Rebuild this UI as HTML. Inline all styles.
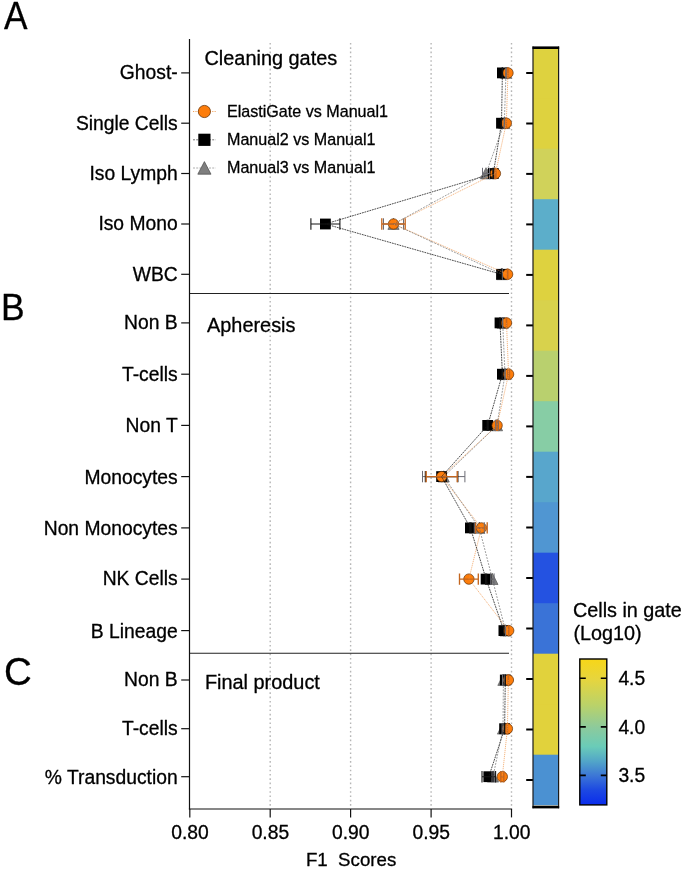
<!DOCTYPE html>
<html lang="en"><head><meta charset="utf-8"><title>F1 Scores</title>
<style>html,body{margin:0;padding:0;background:#fff}svg{display:block}text{stroke:#000;stroke-width:0.3px;stroke-linejoin:round}</style></head>
<body>
<svg width="685" height="869" viewBox="0 0 685 869" font-family="Liberation Sans, Arial, Helvetica, sans-serif" fill="#000" stroke="#000" stroke-width="0">
<defs><linearGradient id="cb" x1="0" y1="0" x2="0" y2="1"><stop offset="0" stop-color="#f7d618"/><stop offset="0.14" stop-color="#e6d53e"/><stop offset="0.32" stop-color="#b9d26a"/><stop offset="0.47" stop-color="#8cca9c"/><stop offset="0.60" stop-color="#6accb8"/><stop offset="0.70" stop-color="#52a6c8"/><stop offset="0.80" stop-color="#3c76d6"/><stop offset="0.90" stop-color="#1c48e2"/><stop offset="1" stop-color="#0a2cec"/></linearGradient></defs>
<rect width="685" height="869" fill="#fff"/>
<line x1="270.2" y1="43" x2="270.2" y2="808" stroke="#b6b6b6" stroke-width="1.4" stroke-dasharray="1.6 2.7"/>
<line x1="350.6" y1="43" x2="350.6" y2="808" stroke="#b6b6b6" stroke-width="1.4" stroke-dasharray="1.6 2.7"/>
<line x1="431.1" y1="43" x2="431.1" y2="808" stroke="#b6b6b6" stroke-width="1.4" stroke-dasharray="1.6 2.7"/>
<line x1="511.5" y1="43" x2="511.5" y2="808" stroke="#b6b6b6" stroke-width="1.4" stroke-dasharray="1.6 2.7"/>
<line x1="189.8" y1="293.5" x2="509" y2="293.5" stroke="#222" stroke-width="1.1"/>
<line x1="189.8" y1="653.3" x2="509" y2="653.3" stroke="#222" stroke-width="1.1"/>
<line x1="189.5" y1="39" x2="189.5" y2="809.6" stroke="#111" stroke-width="1.2"/>
<line x1="188.9" y1="809.0" x2="512.1" y2="809.0" stroke="#111" stroke-width="1.2"/>
<line x1="189.8" y1="809.0" x2="189.8" y2="817.4" stroke="#111" stroke-width="1.2"/>
<text x="190.0" y="838.8" font-size="19.3" text-anchor="middle">0.80</text>
<line x1="270.2" y1="809.0" x2="270.2" y2="817.4" stroke="#111" stroke-width="1.2"/>
<text x="270.4" y="838.8" font-size="19.3" text-anchor="middle">0.85</text>
<line x1="350.6" y1="809.0" x2="350.6" y2="817.4" stroke="#111" stroke-width="1.2"/>
<text x="350.8" y="838.8" font-size="19.3" text-anchor="middle">0.90</text>
<line x1="431.1" y1="809.0" x2="431.1" y2="817.4" stroke="#111" stroke-width="1.2"/>
<text x="431.3" y="838.8" font-size="19.3" text-anchor="middle">0.95</text>
<line x1="511.5" y1="809.0" x2="511.5" y2="817.4" stroke="#111" stroke-width="1.2"/>
<text x="511.7" y="838.8" font-size="19.3" text-anchor="middle">1.00</text>
<text x="305.9" y="866.2" font-size="18.7" xml:space="preserve">F1  Scores</text>
<line x1="181.2" y1="72.9" x2="189.5" y2="72.9" stroke="#111" stroke-width="1.2"/>
<text x="177.7" y="79.2" font-size="19.3" text-anchor="end">Ghost-</text>
<line x1="181.2" y1="123.2" x2="189.5" y2="123.2" stroke="#111" stroke-width="1.2"/>
<text x="177.7" y="130.1" font-size="19.3" text-anchor="end">Single Cells</text>
<line x1="181.2" y1="173.5" x2="189.5" y2="173.5" stroke="#111" stroke-width="1.2"/>
<text x="177.7" y="180.4" font-size="19.3" text-anchor="end">Iso Lymph</text>
<line x1="181.2" y1="224.0" x2="189.5" y2="224.0" stroke="#111" stroke-width="1.2"/>
<text x="177.7" y="230.3" font-size="19.3" text-anchor="end">Iso Mono</text>
<line x1="181.2" y1="274.3" x2="189.5" y2="274.3" stroke="#111" stroke-width="1.2"/>
<text x="177.7" y="280.6" font-size="19.3" text-anchor="end">WBC</text>
<line x1="181.2" y1="322.9" x2="189.5" y2="322.9" stroke="#111" stroke-width="1.2"/>
<text x="177.7" y="329.2" font-size="19.3" text-anchor="end">Non B</text>
<line x1="181.2" y1="374.2" x2="189.5" y2="374.2" stroke="#111" stroke-width="1.2"/>
<text x="177.7" y="380.5" font-size="19.3" text-anchor="end">T-cells</text>
<line x1="181.2" y1="425.4" x2="189.5" y2="425.4" stroke="#111" stroke-width="1.2"/>
<text x="177.7" y="431.7" font-size="19.3" text-anchor="end">Non T</text>
<line x1="181.2" y1="476.6" x2="189.5" y2="476.6" stroke="#111" stroke-width="1.2"/>
<text x="177.7" y="483.5" font-size="19.3" text-anchor="end">Monocytes</text>
<line x1="181.2" y1="527.9" x2="189.5" y2="527.9" stroke="#111" stroke-width="1.2"/>
<text x="177.7" y="534.8" font-size="19.3" text-anchor="end">Non Monocytes</text>
<line x1="181.2" y1="579.1" x2="189.5" y2="579.1" stroke="#111" stroke-width="1.2"/>
<text x="177.7" y="585.4" font-size="19.3" text-anchor="end">NK Cells</text>
<line x1="181.2" y1="630.6" x2="189.5" y2="630.6" stroke="#111" stroke-width="1.2"/>
<text x="177.7" y="637.5" font-size="19.3" text-anchor="end">B Lineage</text>
<line x1="181.2" y1="680.0" x2="189.5" y2="680.0" stroke="#111" stroke-width="1.2"/>
<text x="177.7" y="686.3" font-size="19.3" text-anchor="end">Non B</text>
<line x1="181.2" y1="728.7" x2="189.5" y2="728.7" stroke="#111" stroke-width="1.2"/>
<text x="177.7" y="735.0" font-size="19.3" text-anchor="end">T-cells</text>
<line x1="181.2" y1="776.7" x2="189.5" y2="776.7" stroke="#111" stroke-width="1.2"/>
<text x="177.7" y="783.6" font-size="19.3" text-anchor="end">% Transduction</text>
<text transform="translate(4.0 29.0) scale(0.93 1)" font-size="37.9">A</text>
<text transform="translate(1.1 320.2) scale(0.945 1)" font-size="37.5">B</text>
<text x="4.0" y="685.2" font-size="38.5">C</text>
<text x="204.5" y="64.6" font-size="19.9">Cleaning gates</text>
<text x="207" y="331.5" font-size="19.9">Apheresis</text>
<text x="204.9" y="688.5" font-size="19.9">Final product</text>
<line x1="193" y1="111.5" x2="215.7" y2="111.5" stroke="#ee8a33" stroke-width="0.8" stroke-dasharray="1.2 1.2"/>
<line x1="193" y1="139.8" x2="215.7" y2="139.8" stroke="#555" stroke-width="0.8" stroke-dasharray="2 1.2"/>
<line x1="193" y1="168.0" x2="215.7" y2="168.0" stroke="#999" stroke-width="0.8" stroke-dasharray="2 1.2"/>
<circle cx="204.4" cy="111.5" r="6.1" fill="#fd7d0b" stroke="#6b3405" stroke-width="0.8"/>
<rect x="198.3" y="133.7" width="12.2" height="12.2" fill="#000"/>
<path d="M204.4 161.6 L211 174.2 L197.8 174.2 Z" fill="#7f7f7f" stroke="#4a4a4a" stroke-width="0.7"/>
<text x="227.0" y="116.9" font-size="16.1">ElastiGate vs Manual1</text>
<text x="227.0" y="145.2" font-size="16.1">Manual2 vs Manual1</text>
<text x="227.0" y="173.2" font-size="16.1">Manual3 vs Manual1</text>
<path d="M506.0 67.1 L511.6 78.3 L500.4 78.3 Z" fill="#7f7f7f" stroke="#4a4a4a" stroke-width="0.6"/>
<path d="M504.3 117.4 L509.9 128.6 L498.7 128.6 Z" fill="#7f7f7f" stroke="#4a4a4a" stroke-width="0.6"/>
<path d="M486.0 167.7 L491.6 178.9 L480.4 178.9 Z" fill="#7f7f7f" stroke="#4a4a4a" stroke-width="0.6"/>
<path d="M393.5 218.2 L399.1 229.4 L387.9 229.4 Z" fill="#7f7f7f" stroke="#4a4a4a" stroke-width="0.6"/>
<path d="M502.2 268.5 L507.8 279.7 L496.6 279.7 Z" fill="#7f7f7f" stroke="#4a4a4a" stroke-width="0.6"/>
<path d="M502.7 317.1 L508.3 328.3 L497.1 328.3 Z" fill="#7f7f7f" stroke="#4a4a4a" stroke-width="0.6"/>
<path d="M505.0 368.4 L510.6 379.6 L499.4 379.6 Z" fill="#7f7f7f" stroke="#4a4a4a" stroke-width="0.6"/>
<path d="M497.0 419.6 L502.6 430.8 L491.4 430.8 Z" fill="#7f7f7f" stroke="#4a4a4a" stroke-width="0.6"/>
<path d="M443.7 470.8 L449.3 482.0 L438.1 482.0 Z" fill="#7f7f7f" stroke="#4a4a4a" stroke-width="0.6"/>
<path d="M479.3 522.1 L484.9 533.3 L473.7 533.3 Z" fill="#7f7f7f" stroke="#4a4a4a" stroke-width="0.6"/>
<path d="M492.4 573.3 L498.0 584.5 L486.8 584.5 Z" fill="#7f7f7f" stroke="#4a4a4a" stroke-width="0.6"/>
<path d="M505.5 624.8 L511.1 636.0 L499.9 636.0 Z" fill="#7f7f7f" stroke="#4a4a4a" stroke-width="0.6"/>
<path d="M503.4 674.2 L509.0 685.4 L497.8 685.4 Z" fill="#7f7f7f" stroke="#4a4a4a" stroke-width="0.6"/>
<path d="M503.0 722.9 L508.6 734.1 L497.4 734.1 Z" fill="#7f7f7f" stroke="#4a4a4a" stroke-width="0.6"/>
<path d="M493.0 770.9 L498.6 782.1 L487.4 782.1 Z" fill="#7f7f7f" stroke="#4a4a4a" stroke-width="0.6"/>
<rect x="497.0" y="67.5" width="10.8" height="10.8" fill="#000"/>
<rect x="496.1" y="117.8" width="10.8" height="10.8" fill="#000"/>
<rect x="487.9" y="168.1" width="10.8" height="10.8" fill="#000"/>
<rect x="320.0" y="218.6" width="10.8" height="10.8" fill="#000"/>
<rect x="496.1" y="268.9" width="10.8" height="10.8" fill="#000"/>
<rect x="494.6" y="317.5" width="10.8" height="10.8" fill="#000"/>
<rect x="497.0" y="368.8" width="10.8" height="10.8" fill="#000"/>
<rect x="482.3" y="420.0" width="10.8" height="10.8" fill="#000"/>
<rect x="436.2" y="471.2" width="10.8" height="10.8" fill="#000"/>
<rect x="465.0" y="522.5" width="10.8" height="10.8" fill="#000"/>
<rect x="480.7" y="573.7" width="10.8" height="10.8" fill="#000"/>
<rect x="498.5" y="625.2" width="10.8" height="10.8" fill="#000"/>
<rect x="499.9" y="674.6" width="10.8" height="10.8" fill="#000"/>
<rect x="499.2" y="723.3" width="10.8" height="10.8" fill="#000"/>
<rect x="483.4" y="771.3" width="10.8" height="10.8" fill="#000"/>
<circle cx="508.0" cy="72.9" r="5.2" fill="#fd7d0b" stroke="#5e2e05" stroke-width="0.7"/>
<circle cx="506.3" cy="123.2" r="5.2" fill="#fd7d0b" stroke="#5e2e05" stroke-width="0.7"/>
<circle cx="495.4" cy="173.5" r="5.2" fill="#fd7d0b" stroke="#5e2e05" stroke-width="0.7"/>
<circle cx="393.5" cy="224.0" r="5.2" fill="#fd7d0b" stroke="#5e2e05" stroke-width="0.7"/>
<circle cx="507.6" cy="274.3" r="5.2" fill="#fd7d0b" stroke="#5e2e05" stroke-width="0.7"/>
<circle cx="506.5" cy="322.9" r="5.2" fill="#fd7d0b" stroke="#5e2e05" stroke-width="0.7"/>
<circle cx="508.6" cy="374.2" r="5.2" fill="#fd7d0b" stroke="#5e2e05" stroke-width="0.7"/>
<circle cx="497.1" cy="425.4" r="5.2" fill="#fd7d0b" stroke="#5e2e05" stroke-width="0.7"/>
<circle cx="441.7" cy="476.6" r="5.2" fill="#fd7d0b" stroke="#5e2e05" stroke-width="0.7"/>
<circle cx="481.4" cy="527.9" r="5.2" fill="#fd7d0b" stroke="#5e2e05" stroke-width="0.7"/>
<circle cx="468.9" cy="579.1" r="5.2" fill="#fd7d0b" stroke="#5e2e05" stroke-width="0.7"/>
<circle cx="508.7" cy="630.6" r="5.2" fill="#fd7d0b" stroke="#5e2e05" stroke-width="0.7"/>
<circle cx="508.4" cy="680.0" r="5.2" fill="#fd7d0b" stroke="#5e2e05" stroke-width="0.7"/>
<circle cx="507.4" cy="728.7" r="5.2" fill="#fd7d0b" stroke="#5e2e05" stroke-width="0.7"/>
<circle cx="502.3" cy="776.7" r="5.2" fill="#fd7d0b" stroke="#5e2e05" stroke-width="0.7"/>
<path d="M505.9 67.2V78.6M506.1 67.2V78.6M505.9 72.9H506.1" stroke="#6c6c74" stroke-width="1.0" fill="none"/>
<path d="M502.2 67.2V78.6M502.5 67.2V78.6M502.2 72.9H502.5" stroke="#141414" stroke-width="1.1" fill="none"/>
<path d="M507.9 67.2V78.6M508.1 67.2V78.6M507.9 72.9H508.1" stroke="#c4661f" stroke-width="1.35" fill="none"/>
<path d="M504.2 117.5V128.9M504.4 117.5V128.9M504.2 123.2H504.4" stroke="#6c6c74" stroke-width="1.0" fill="none"/>
<path d="M501.4 117.5V128.9M501.6 117.5V128.9M501.4 123.2H501.6" stroke="#141414" stroke-width="1.1" fill="none"/>
<path d="M506.2 117.5V128.9M506.4 117.5V128.9M506.2 123.2H506.4" stroke="#c4661f" stroke-width="1.35" fill="none"/>
<path d="M482.5 167.8V179.2M489.5 167.8V179.2M482.5 173.5H489.5" stroke="#6c6c74" stroke-width="1.0" fill="none"/>
<path d="M492.8 167.8V179.2M493.8 167.8V179.2M492.8 173.5H493.8" stroke="#141414" stroke-width="1.1" fill="none"/>
<path d="M494.8 167.8V179.2M496.0 167.8V179.2M494.8 173.5H496.0" stroke="#c4661f" stroke-width="1.35" fill="none"/>
<path d="M383.5 218.3V229.7M403.5 218.3V229.7M383.5 224.0H403.5" stroke="#6c6c74" stroke-width="1.0" fill="none"/>
<path d="M310.9 218.3V229.7M339.9 218.3V229.7M310.9 224.0H339.9" stroke="#141414" stroke-width="1.1" fill="none"/>
<path d="M381.8 218.3V229.7M405.2 218.3V229.7M381.8 224.0H405.2" stroke="#c4661f" stroke-width="1.35" fill="none"/>
<path d="M502.1 268.6V280.0M502.3 268.6V280.0M502.1 274.3H502.3" stroke="#6c6c74" stroke-width="1.0" fill="none"/>
<path d="M501.4 268.6V280.0M501.6 268.6V280.0M501.4 274.3H501.6" stroke="#141414" stroke-width="1.1" fill="none"/>
<path d="M507.5 268.6V280.0M507.8 268.6V280.0M507.5 274.3H507.8" stroke="#c4661f" stroke-width="1.35" fill="none"/>
<path d="M502.6 317.2V328.6M502.8 317.2V328.6M502.6 322.9H502.8" stroke="#6c6c74" stroke-width="1.0" fill="none"/>
<path d="M499.9 317.2V328.6M500.1 317.2V328.6M499.9 322.9H500.1" stroke="#141414" stroke-width="1.1" fill="none"/>
<path d="M506.4 317.2V328.6M506.6 317.2V328.6M506.4 322.9H506.6" stroke="#c4661f" stroke-width="1.35" fill="none"/>
<path d="M504.9 368.5V379.9M505.1 368.5V379.9M504.9 374.2H505.1" stroke="#6c6c74" stroke-width="1.0" fill="none"/>
<path d="M502.2 368.5V379.9M502.5 368.5V379.9M502.2 374.2H502.5" stroke="#141414" stroke-width="1.1" fill="none"/>
<path d="M507.7 368.5V379.9M509.5 368.5V379.9M507.7 374.2H509.5" stroke="#c4661f" stroke-width="1.35" fill="none"/>
<path d="M495.5 419.7V431.1M498.5 419.7V431.1M495.5 425.4H498.5" stroke="#6c6c74" stroke-width="1.0" fill="none"/>
<path d="M487.2 419.7V431.1M488.2 419.7V431.1M487.2 425.4H488.2" stroke="#141414" stroke-width="1.1" fill="none"/>
<path d="M496.5 419.7V431.1M497.7 419.7V431.1M496.5 425.4H497.7" stroke="#c4661f" stroke-width="1.35" fill="none"/>
<path d="M422.5 470.9V482.3M464.9 470.9V482.3M422.5 476.6H464.9" stroke="#6c6c74" stroke-width="1.0" fill="none"/>
<path d="M425.3 470.9V482.3M457.9 470.9V482.3M425.3 476.6H457.9" stroke="#141414" stroke-width="1.1" fill="none"/>
<path d="M426.2 470.9V482.3M457.2 470.9V482.3M426.2 476.6H457.2" stroke="#c4661f" stroke-width="1.35" fill="none"/>
<path d="M474.3 522.2V533.6M484.3 522.2V533.6M474.3 527.9H484.3" stroke="#6c6c74" stroke-width="1.0" fill="none"/>
<path d="M469.8 522.2V533.6M471.0 522.2V533.6M469.8 527.9H471.0" stroke="#141414" stroke-width="1.1" fill="none"/>
<path d="M475.6 522.2V533.6M487.2 522.2V533.6M475.6 527.9H487.2" stroke="#c4661f" stroke-width="1.35" fill="none"/>
<path d="M490.7 573.4V584.8M494.1 573.4V584.8M490.7 579.1H494.1" stroke="#6c6c74" stroke-width="1.0" fill="none"/>
<path d="M485.5 573.4V584.8M486.7 573.4V584.8M485.5 579.1H486.7" stroke="#141414" stroke-width="1.1" fill="none"/>
<path d="M459.5 573.4V584.8M478.3 573.4V584.8M459.5 579.1H478.3" stroke="#c4661f" stroke-width="1.35" fill="none"/>
<path d="M505.4 624.9V636.3M505.6 624.9V636.3M505.4 630.6H505.6" stroke="#6c6c74" stroke-width="1.0" fill="none"/>
<path d="M503.8 624.9V636.3M504.0 624.9V636.3M503.8 630.6H504.0" stroke="#141414" stroke-width="1.1" fill="none"/>
<path d="M508.6 624.9V636.3M508.8 624.9V636.3M508.6 630.6H508.8" stroke="#c4661f" stroke-width="1.35" fill="none"/>
<path d="M502.5 674.3V685.7M504.3 674.3V685.7M502.5 680.0H504.3" stroke="#6c6c74" stroke-width="1.0" fill="none"/>
<path d="M505.2 674.3V685.7M505.4 674.3V685.7M505.2 680.0H505.4" stroke="#141414" stroke-width="1.1" fill="none"/>
<path d="M508.2 674.3V685.7M508.5 674.3V685.7M508.2 680.0H508.5" stroke="#c4661f" stroke-width="1.35" fill="none"/>
<path d="M502.1 723.0V734.4M503.9 723.0V734.4M502.1 728.7H503.9" stroke="#6c6c74" stroke-width="1.0" fill="none"/>
<path d="M504.5 723.0V734.4M504.8 723.0V734.4M504.5 728.7H504.8" stroke="#141414" stroke-width="1.1" fill="none"/>
<path d="M507.2 723.0V734.4M507.5 723.0V734.4M507.2 728.7H507.5" stroke="#c4661f" stroke-width="1.35" fill="none"/>
<path d="M492.0 771.0V782.4M494.0 771.0V782.4M492.0 776.7H494.0" stroke="#6c6c74" stroke-width="1.0" fill="none"/>
<path d="M482.0 771.0V782.4M495.6 771.0V782.4M482.0 776.7H495.6" stroke="#141414" stroke-width="1.1" fill="none"/>
<path d="M500.8 771.0V782.4M503.8 771.0V782.4M500.8 776.7H503.8" stroke="#c4661f" stroke-width="1.35" fill="none"/>
<polyline points="508.0,72.9 506.3,123.2 495.4,173.5 393.5,224.0 507.6,274.3" fill="none" stroke="#ef9346" stroke-width="0.65" stroke-dasharray="1.2 0.8"/>
<polyline points="502.4,72.9 501.5,123.2 493.3,173.5 325.4,224.0 501.5,274.3" fill="none" stroke="#111" stroke-width="0.75" stroke-dasharray="1.8 0.8"/>
<polyline points="506.0,72.9 504.3,123.2 486.0,173.5 393.5,224.0 502.2,274.3" fill="none" stroke="#5a5a5a" stroke-width="0.6" stroke-dasharray="1.9 1.2"/>
<polyline points="506.5,322.9 508.6,374.2 497.1,425.4 441.7,476.6 481.4,527.9 468.9,579.1 508.7,630.6" fill="none" stroke="#ef9346" stroke-width="0.65" stroke-dasharray="1.2 0.8"/>
<polyline points="500.0,322.9 502.4,374.2 487.7,425.4 441.6,476.6 470.4,527.9 486.1,579.1 503.9,630.6" fill="none" stroke="#111" stroke-width="0.75" stroke-dasharray="1.8 0.8"/>
<polyline points="502.7,322.9 505.0,374.2 497.0,425.4 443.7,476.6 479.3,527.9 492.4,579.1 505.5,630.6" fill="none" stroke="#5a5a5a" stroke-width="0.6" stroke-dasharray="1.9 1.2"/>
<polyline points="508.4,680.0 507.4,728.7 502.3,776.7" fill="none" stroke="#ef9346" stroke-width="0.65" stroke-dasharray="1.2 0.8"/>
<polyline points="505.3,680.0 504.6,728.7 488.8,776.7" fill="none" stroke="#111" stroke-width="0.75" stroke-dasharray="1.8 0.8"/>
<polyline points="503.4,680.0 503.0,728.7 493.0,776.7" fill="none" stroke="#5a5a5a" stroke-width="0.6" stroke-dasharray="1.9 1.2"/>
<rect x="533.0" y="47.70" width="25.6" height="51.50" fill="#ded23f"/>
<line x1="526.2" y1="73.0" x2="533.0" y2="73.0" stroke="#000" stroke-width="2"/>
<rect x="533.0" y="98.20" width="25.6" height="51.50" fill="#ded23f"/>
<line x1="526.2" y1="123.5" x2="533.0" y2="123.5" stroke="#000" stroke-width="2"/>
<rect x="533.0" y="148.70" width="25.6" height="51.50" fill="#d0d25a"/>
<line x1="526.2" y1="173.9" x2="533.0" y2="173.9" stroke="#000" stroke-width="2"/>
<rect x="533.0" y="199.20" width="25.6" height="51.50" fill="#5caeca"/>
<line x1="526.2" y1="224.4" x2="533.0" y2="224.4" stroke="#000" stroke-width="2"/>
<rect x="533.0" y="249.70" width="25.6" height="51.50" fill="#ded23f"/>
<line x1="526.2" y1="274.9" x2="533.0" y2="274.9" stroke="#000" stroke-width="2"/>
<rect x="533.0" y="300.20" width="25.6" height="51.50" fill="#d8d24c"/>
<line x1="526.2" y1="325.4" x2="533.0" y2="325.4" stroke="#000" stroke-width="2"/>
<rect x="533.0" y="350.70" width="25.6" height="51.50" fill="#b9d06e"/>
<line x1="526.2" y1="375.9" x2="533.0" y2="375.9" stroke="#000" stroke-width="2"/>
<rect x="533.0" y="401.20" width="25.6" height="51.50" fill="#87cda5"/>
<line x1="526.2" y1="426.4" x2="533.0" y2="426.4" stroke="#000" stroke-width="2"/>
<rect x="533.0" y="451.70" width="25.6" height="51.50" fill="#58a6cc"/>
<line x1="526.2" y1="476.9" x2="533.0" y2="476.9" stroke="#000" stroke-width="2"/>
<rect x="533.0" y="502.20" width="25.6" height="51.50" fill="#5096d2"/>
<line x1="526.2" y1="527.5" x2="533.0" y2="527.5" stroke="#000" stroke-width="2"/>
<rect x="533.0" y="552.70" width="25.6" height="51.50" fill="#2452e1"/>
<line x1="526.2" y1="578.0" x2="533.0" y2="578.0" stroke="#000" stroke-width="2"/>
<rect x="533.0" y="603.20" width="25.6" height="51.50" fill="#3a73d7"/>
<line x1="526.2" y1="628.5" x2="533.0" y2="628.5" stroke="#000" stroke-width="2"/>
<rect x="533.0" y="653.70" width="25.6" height="51.50" fill="#e1d23c"/>
<line x1="526.2" y1="679.0" x2="533.0" y2="679.0" stroke="#000" stroke-width="2"/>
<rect x="533.0" y="704.20" width="25.6" height="51.50" fill="#e1d23c"/>
<line x1="526.2" y1="729.5" x2="533.0" y2="729.5" stroke="#000" stroke-width="2"/>
<rect x="533.0" y="754.70" width="25.6" height="50.50" fill="#4b91d2"/>
<line x1="526.2" y1="780.0" x2="533.0" y2="780.0" stroke="#000" stroke-width="2"/>
<rect x="533.0" y="805.2" width="25.6" height="0.8" fill="#a5a9a0"/>
<line x1="533.0" y1="46.4" x2="533.0" y2="808.3" stroke="#1a1a1a" stroke-width="1.2"/>
<line x1="558.6" y1="46.4" x2="558.6" y2="808.3" stroke="#1a1a1a" stroke-width="1.2"/>
<line x1="532.45" y1="47.7" x2="559.15" y2="47.7" stroke="#000" stroke-width="2.6"/>
<line x1="532.45" y1="807.15" x2="559.15" y2="807.15" stroke="#000" stroke-width="2.5"/>
<rect x="579.8" y="659.0" width="27.0" height="145.9" fill="url(#cb)" stroke="#000" stroke-width="1.4"/>
<path d="M579.8 678.3H585.8M600.8 678.3H606.8" stroke="#000" stroke-width="1.6"/>
<text x="618.4" y="685.1" font-size="19.3">4.5</text>
<path d="M579.8 726.9H585.8M600.8 726.9H606.8" stroke="#000" stroke-width="1.6"/>
<text x="618.4" y="733.7" font-size="19.3">4.0</text>
<path d="M579.8 775.4H585.8M600.8 775.4H606.8" stroke="#000" stroke-width="1.6"/>
<text x="618.4" y="782.2" font-size="19.3">3.5</text>
<text x="573.0" y="616.8" font-size="19.8">Cells in gate</text>
<text x="573.4" y="640.4" font-size="19.8">(Log10)</text>
</svg>
</body></html>
